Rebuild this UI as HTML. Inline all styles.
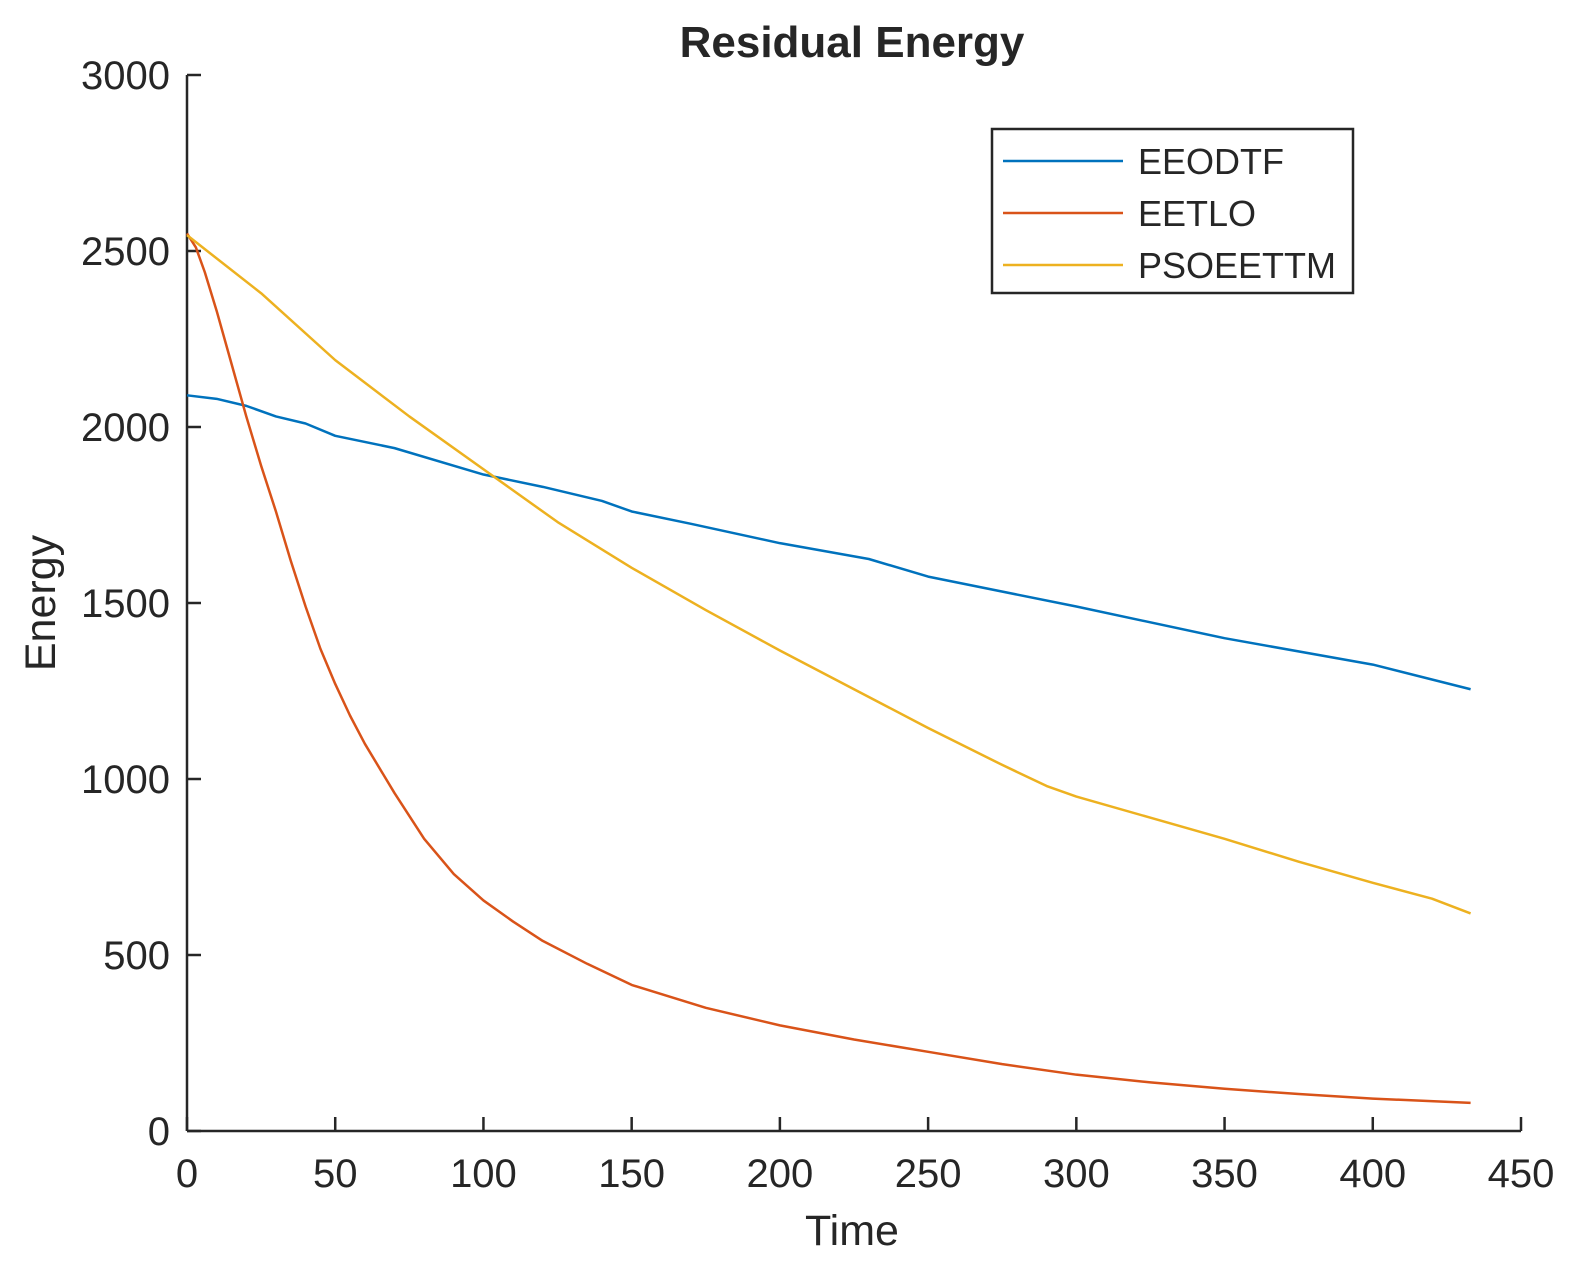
<!DOCTYPE html>
<html><head><meta charset="utf-8"><style>
body{margin:0;background:#fff}
svg text{font-family:"Liberation Sans",Arial,sans-serif;fill:#262626}
</style></head><body>
<svg id="chart" width="1577" height="1274" xmlns="http://www.w3.org/2000/svg">
<rect width="1577" height="1274" fill="#fff"/>
<text x="852" y="57" font-size="44" font-weight="bold" text-anchor="middle" fill="#000">Residual Energy</text>
<g id="axes"></g>
<g id="series"></g>
<text x="852" y="1245" font-size="43" text-anchor="middle">Time</text>
<text transform="translate(55,603) rotate(-90)" font-size="43" text-anchor="middle">Energy</text>
<g>
<rect x="992" y="129" width="361" height="164" fill="#fff" stroke="#262626" stroke-width="2.5"/>
<line x1="1003" y1="161" x2="1123" y2="161" stroke="#0072BD" stroke-width="2.5"/>
<text x="1138" y="174" font-size="36">EEODTF</text>
<line x1="1003" y1="213" x2="1123" y2="213" stroke="#D95319" stroke-width="2.5"/>
<text x="1138" y="226" font-size="36">EETLO</text>
<line x1="1003" y1="265" x2="1123" y2="265" stroke="#EDB120" stroke-width="2.5"/>
<text x="1138" y="278" font-size="36">PSOEETTM</text>
</g>
</svg>
<script>
const xTicks=[0,50,100,150,200,250,300,350,400,450];
const yTicks=[0,500,1000,1500,2000,2500,3000];
const eeodtfX=[0,10,20,30,40,50,70,100,120,140,150,170,200,230,250,300,350,400,433];
const eeodtfY=[2090,2080,2060,2030,2010,1975,1940,1865,1830,1790,1760,1725,1670,1625,1575,1490,1400,1325,1255];
const eetloX=[0,3,6,10,15,20,25,30,35,40,45,50,55,60,70,80,90,100,110,120,135,150,175,200,225,250,275,300,325,350,375,400,433];
const eetloY=[2550,2510,2440,2330,2180,2030,1890,1760,1620,1490,1370,1270,1180,1100,960,830,730,655,595,540,475,415,350,300,260,225,190,160,138,120,105,92,80];
const psoX=[0,25,50,75,100,110,125,150,175,200,225,250,275,290,300,325,350,375,400,420,433];
const psoY=[2545,2380,2190,2030,1880,1820,1730,1600,1480,1365,1255,1145,1040,980,950,890,830,765,705,660,618];
const NS='http://www.w3.org/2000/svg';
const X0=187,X1=1521,Y0=1131,Y1=75;
const sx=v=>X0+(v/450)*(X1-X0);
const sy=v=>Y0-(v/3000)*(Y0-Y1);
const axes=document.getElementById('axes');
function mk(tag,attrs,parent){const e=document.createElementNS(NS,tag);for(const k in attrs)e.setAttribute(k,attrs[k]);parent.appendChild(e);return e;}
const xa=mk('line',{x1:X0,y1:Y0,x2:X1,y2:Y0,stroke:'#262626','stroke-width':2.5},axes);


const ya=mk('line',{x1:X0,y1:Y0,x2:X0,y2:Y1,stroke:'#262626','stroke-width':2.5},axes);


xTicks.forEach(t=>{
  mk('line',{x1:sx(t),y1:Y0,x2:sx(t),y2:Y0-14,stroke:'#262626','stroke-width':2.5},axes);
  const tx=mk('text',{x:sx(t),y:Y0+56,'font-size':40,'text-anchor':'middle'},axes);
  tx.textContent=t;
  
  
});
yTicks.forEach(t=>{
  mk('line',{x1:X0,y1:sy(t),x2:X0+14,y2:sy(t),stroke:'#262626','stroke-width':2.5},axes);
  const tx=mk('text',{x:X0-17,y:sy(t)+14,'font-size':40,'text-anchor':'end'},axes);
  tx.textContent=t;
  
  
});
const sg=document.getElementById('series');
function line(xs,ys,color,name){
  const p=mk('polyline',{points:xs.map((x,i)=>sx(x)+','+sy(ys[i])).join(' '),fill:'none',stroke:color,'stroke-width':2.5,'stroke-linejoin':'round'},sg);
  
  
}
line(eeodtfX,eeodtfY,'#0072BD','series-eeodtf');
line(eetloX,eetloY,'#D95319','series-eetlo');
line(psoX,psoY,'#EDB120','series-psoeettm');
</script>
</body></html>
